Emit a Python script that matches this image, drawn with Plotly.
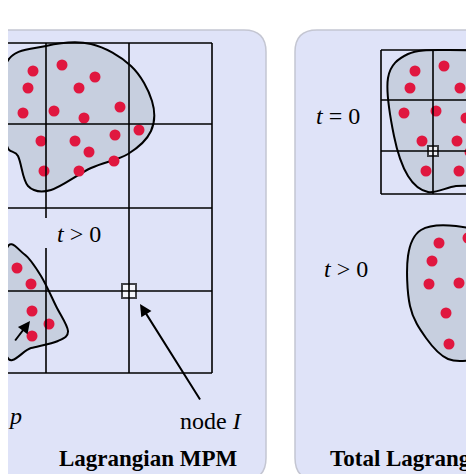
import plotly.graph_objects as go

# blob outlines (control points, pixel space)
blob_ul = [(-10, 48), (30, 30), (75, 28), (115, 50), (136, 85), (135, 115), (112, 138),
           (75, 152), (35, 174), (12, 170), (2, 140), (-10, 125)]
blob_ll = [(-10, 236), (8, 238), (25, 260), (40, 290), (52, 315), (42, 325), (15, 332), (-10, 338)]
blob_ur = [(372, 62), (392, 38), (430, 34), (474, 38), (490, 60), (490, 150), (470, 168),
           (440, 170), (412, 176), (392, 160), (378, 120)]
blob_lr = [(392, 240), (405, 214), (440, 210), (474, 222), (495, 260), (490, 330), (460, 343),
           (432, 343), (410, 322), (394, 290)]

# material points
dots_x = [17, 46, 79, 12, 63, 7, 38, 68, 104, 25, 59, 73, 99, 123, 98, 28, 63,
          1, 15, 16, 33, 16,
          399, 428, 461, 394, 444, 388, 420, 450, 406, 441, 454, 410, 443,
          423, 452, 416, 465, 413, 443, 470, 430, 465, 433, 468]
dots_y = [55, 49, 61, 72, 72, 97, 95, 102, 91, 125, 125, 136, 119, 114, 145, 155, 155,
          252, 268, 295, 308, 320,
          55, 50, 60, 72, 72, 97, 95, 102, 125, 125, 136, 155, 155,
          227, 222, 245, 245, 268, 267, 272, 297, 297, 328, 328]

# background grids
grid_l_x = [-10, 30, 113, 196]
grid_l_y = [27, 108, 192, 275, 357]
grid_r_x = [365, 417, 469, 521]
grid_r_y = [34, 84, 135, 178]

OFF = 8  # page body margin


def smooth_path(pts):
    n = len(pts)
    d = "M %.1f,%.1f" % pts[0]
    for i in range(n):
        p0, p1, p2, p3 = pts[i - 1], pts[i], pts[(i + 1) % n], pts[(i + 2) % n]
        c1 = (p1[0] + (p2[0] - p0[0]) / 6, p1[1] + (p2[1] - p0[1]) / 6)
        c2 = (p2[0] - (p3[0] - p1[0]) / 6, p2[1] - (p3[1] - p1[1]) / 6)
        d += " C %.1f,%.1f %.1f,%.1f %.1f,%.1f" % (c1 + c2 + p2)
    return d + " Z"


def rounded(x0, y0, x1, y1, r):
    return (f"M {x0+r},{y0} L {x1-r},{y0} Q {x1},{y0} {x1},{y0+r} L {x1},{y1-r} "
            f"Q {x1},{y1} {x1-r},{y1} L {x0+r},{y1} Q {x0},{y1} {x0},{y1-r} "
            f"L {x0},{y0+r} Q {x0},{y0} {x0+r},{y0} Z")


fig = go.Figure()
shapes = []
panel = dict(type="path", fillcolor="#dfe3f8", line=dict(color="#c4c6d2", width=1.5), layer="below")
shapes.append(dict(panel, path=rounded(-30, 14, 250, 464, 22)))
shapes.append(dict(panel, path=rounded(279, 14, 510, 464, 22)))

blob = dict(type="path", fillcolor="#c7cfdf", line=dict(color="black", width=2), layer="below")
for b in [blob_ul, blob_ll, blob_ur, blob_lr]:
    shapes.append(dict(blob, path=smooth_path(b)))

ln = dict(type="line", line=dict(color="black", width=1.6))
for x in grid_l_x:
    if x == 30:
        shapes.append(dict(ln, x0=x, x1=x, y0=27, y1=202))
        shapes.append(dict(ln, x0=x, x1=x, y0=232, y1=357))
    else:
        shapes.append(dict(ln, x0=x, x1=x, y0=27, y1=357))
for y in grid_l_y:
    shapes.append(dict(ln, x0=-10, x1=196, y0=y, y1=y))
for x in grid_r_x:
    shapes.append(dict(ln, x0=x, x1=x, y0=34, y1=178))
for y in grid_r_y:
    shapes.append(dict(ln, x0=365, x1=521, y0=y, y1=y))

fig.add_trace(go.Scatter(x=dots_x, y=dots_y, mode="markers",
                         marker=dict(size=11, color="#e0173f"), hoverinfo="skip"))
# grid nodes
fig.add_trace(go.Scatter(x=[113, 417], y=[275, 135], mode="markers",
                         marker=dict(symbol="square", size=[14, 10], color="white",
                                     line=dict(color="black", width=2)), hoverinfo="skip"))

serif = "Liberation Serif"
ann = []
def txt(x, y, s, size=24, anchor="center"):
    ann.append(dict(x=x, y=y, text=s, showarrow=False, xanchor=anchor,
                    font=dict(family=serif, size=size, color="black")))

txt(63, 218, "<i>t</i> > 0")
txt(322, 100, "<i>t</i> = 0")
txt(330, 253, "<i>t</i> > 0")
txt(195, 405, "node <i>I</i>")
txt(8, 400, "<i>p</i>", anchor="right")
txt(224, 442, "<b>Lagrangian MPM</b>", size=23, anchor="right")
txt(312, 442, "<b>Total Lagrangian MPM</b>", size=23, anchor="left")

for (x0, y0, x1, y1) in [(185, 385, 124, 288), (-2, 326, 14, 305)]:
    ann.append(dict(x=x1, y=y1, ax=x0, ay=y0, xref="x", yref="y", axref="x", ayref="y",
                    showarrow=True, arrowhead=2, arrowsize=1.2, arrowwidth=2, arrowcolor="black",
                    text=""))

fig.update_layout(width=474, height=474, margin=dict(l=0, r=0, t=0, b=0),
                  paper_bgcolor="white", plot_bgcolor="white", showlegend=False,
                  shapes=shapes, annotations=ann,
                  xaxis=dict(range=[-OFF, 474 - OFF], visible=False, fixedrange=True),
                  yaxis=dict(range=[474 - OFF, -OFF], visible=False, fixedrange=True))
fig.write_html("out.html")
